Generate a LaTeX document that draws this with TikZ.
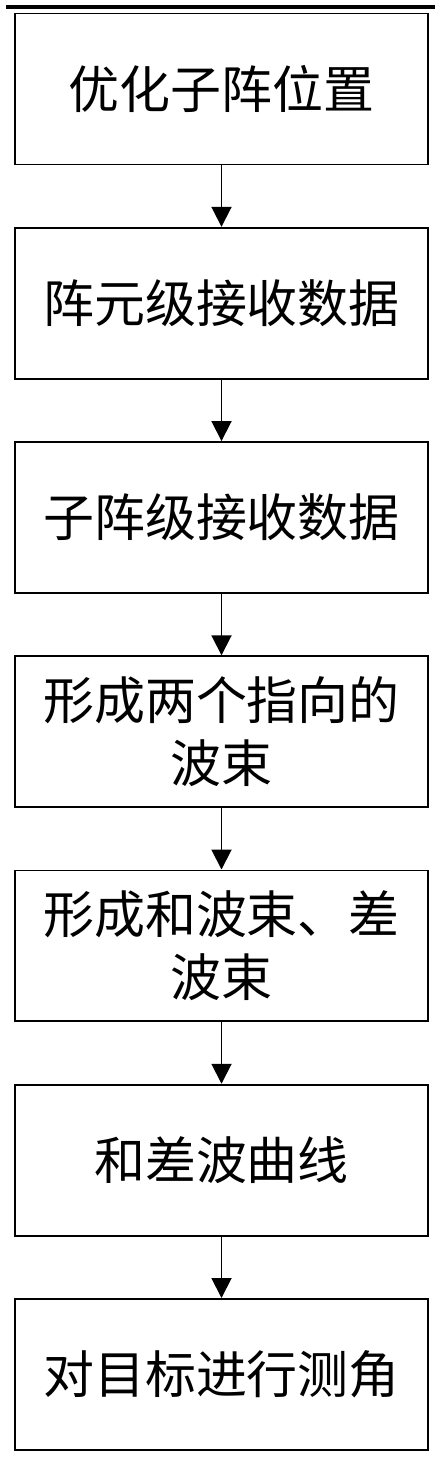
\documentclass[tikz,border=0pt]{standalone}
\usepackage{fontspec}
\newfontfamily\cjk{Noto Sans CJK SC}
\usetikzlibrary{arrows.meta, positioning}

\begin{document}
\begin{tikzpicture}[
    x=0.02cm, y=-0.02cm,
    font=\cjk\fontsize{29}{36}\selectfont,
    node distance=1.227cm,
    kuang/.style={draw, line width=1.1pt, minimum width=8.26cm,
                  minimum height=3.02cm, align=center, inner sep=0pt},
    jiantou/.style={-{Triangle[length=0.4cm, width=0.4cm]}, line width=1.1pt}
  ]
    \useasboundingbox (0,0) rectangle (441,1461);
    \draw[line width=2.2pt] (6,7) -- (435,7);
    \node[kuang] (youhua) at (221.5,89) {优化子阵位置};
    \node[kuang, below=of youhua] (zhenyuan) {阵元级接收数据};
    \node[kuang, below=of zhenyuan] (zizhen) {子阵级接收数据};
    \node[kuang, below=of zizhen] (liangge) {形成两个指向的\\波束};
    \node[kuang, below=of liangge] (hecha) {形成和波束、差\\波束};
    \node[kuang, below=of hecha] (quxian) {和差波曲线};
    \node[kuang, below=of quxian] (cejiao) {对目标进行测角};
    \draw[jiantou] (youhua) -- (zhenyuan);
    \draw[jiantou] (zhenyuan) -- (zizhen);
    \draw[jiantou] (zizhen) -- (liangge);
    \draw[jiantou] (liangge) -- (hecha);
    \draw[jiantou] (hecha) -- (quxian);
    \draw[jiantou] (quxian) -- (cejiao);
  \end{tikzpicture}
\end{document}
